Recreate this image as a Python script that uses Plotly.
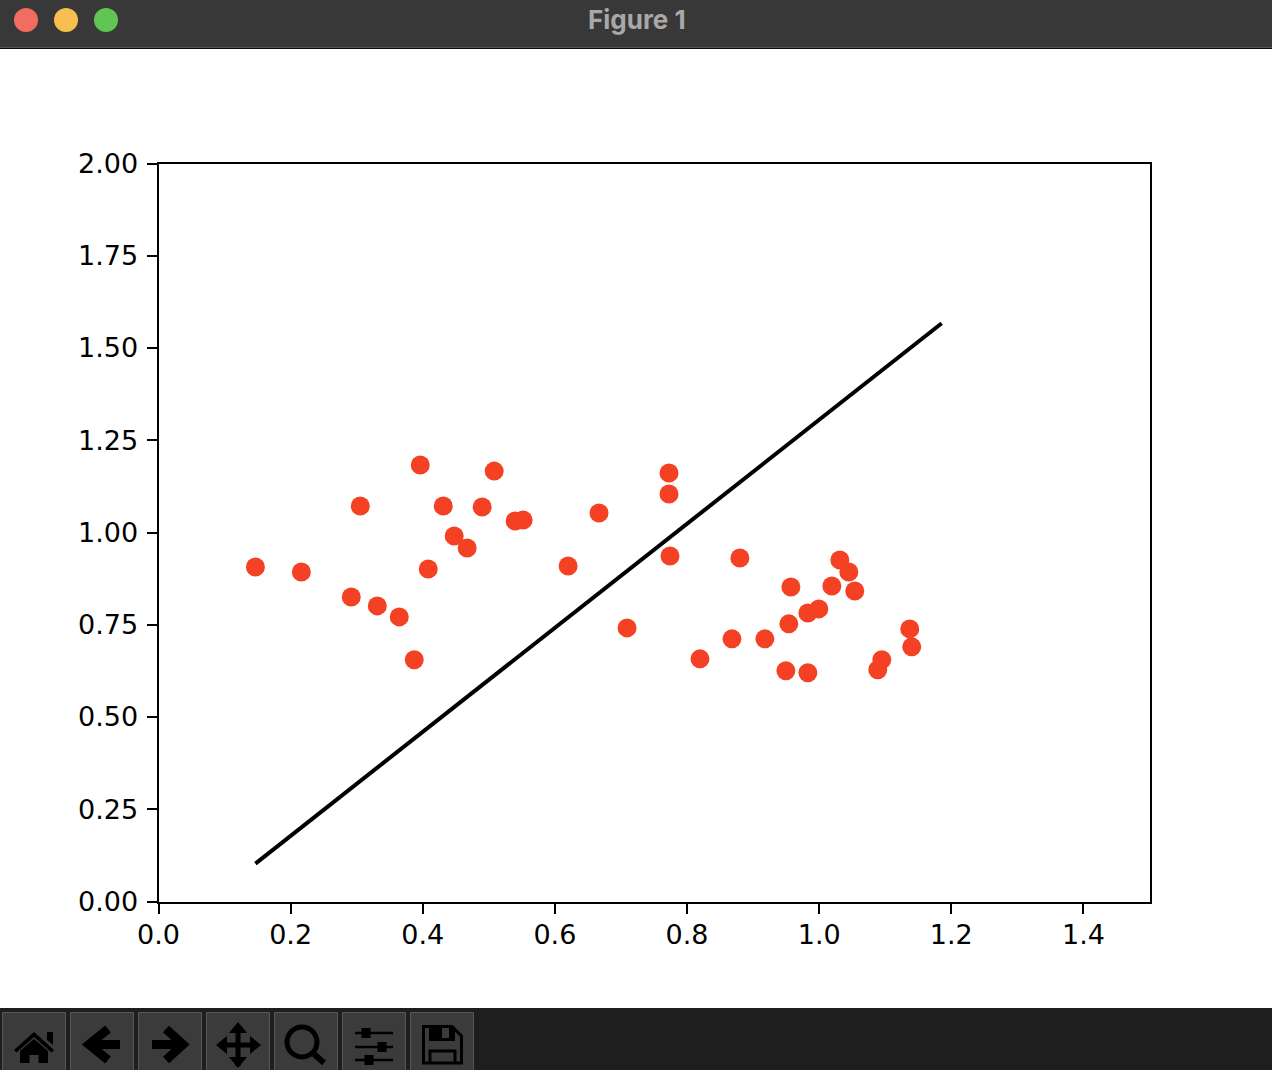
import plotly.graph_objects as go

point_x = [0.1467, 0.2162, 0.2918, 0.3312, 0.3644, 0.3871, 0.4083, 0.3962, 0.3054, 0.4310,
           0.4476, 0.4672, 0.4899, 0.5081, 0.5398, 0.5519, 0.6200, 0.6668, 0.7092, 0.7727,
           0.7727, 0.7742, 0.8196, 0.8680, 0.8800, 0.9178, 0.9496, 0.9541, 0.9572, 0.9829,
           0.9829, 0.9995, 1.0192, 1.0313, 1.0449, 1.0539, 1.0887, 1.0948, 1.1371, 1.1401]
point_y = [0.9066, 0.8931, 0.8254, 0.8011, 0.7713, 0.6549, 0.9012, 1.1827, 1.0717, 1.0717,
           0.9905, 0.9580, 1.0690, 1.1664, 1.0311, 1.0338, 0.9093, 1.0528, 0.7415, 1.1610,
           1.1042, 0.9364, 0.6576, 0.7118, 0.9310, 0.7118, 0.6252, 0.7524, 0.8525, 0.6198,
           0.7821, 0.7930, 0.8552, 0.9256, 0.8931, 0.8417, 0.6279, 0.6549, 0.7388, 0.6901]
line_x = [0.1467, 1.1855]
line_y = [0.1028, 1.5670]
x_ticks = [0.0, 0.2, 0.4, 0.6, 0.8, 1.0, 1.2, 1.4]
y_ticks = [0.0, 0.25, 0.5, 0.75, 1.0, 1.25, 1.5, 1.75, 2.0]

W, H = 1272, 1070
fig = go.Figure()
fig.add_trace(go.Scatter(x=point_x, y=point_y, mode="markers",
                         marker=dict(color="#f44123", size=19, line=dict(width=0)),
                         showlegend=False, hoverinfo="skip"))
fig.add_trace(go.Scatter(x=line_x, y=line_y, mode="lines",
                         line=dict(color="black", width=4),
                         showlegend=False, hoverinfo="skip"))

shapes = []
def S(**k):
    shapes.append(dict(xref="x2", yref="y2", layer="above", **k))
def rect(x0, y0, x1, y1, fill, lc=None, lw=0):
    S(type="rect", x0=x0, y0=y0, x1=x1, y1=y1, fillcolor=fill,
      line=dict(color=lc or fill, width=lw))
def path(d, fill=None, lc="black", lw=0):
    S(type="path", path=d, fillcolor=fill or "rgba(0,0,0,0)",
      line=dict(color=lc, width=lw))
def circle(cx, cy, r, fill, lc=None, lw=0):
    S(type="circle", x0=cx-r, y0=cy-r, x1=cx+r, y1=cy+r, fillcolor=fill,
      line=dict(color=lc or fill, width=lw))

# window title bar
rect(0, 0, W, 47.5, "#383838")
rect(0, 47.5, W, 49, "#0a0a0a")
circle(26, 20, 12, "#f26d61")
circle(66, 20, 12, "#f7bf50")
circle(106, 20, 12, "#61c554")

# toolbar
rect(0, 1008, W, H, "#1e1e1e")
for bx in [2, 70, 138, 206, 274, 342, 410]:
    rect(bx + .5, 1012.5, bx + 63.5, H + 3, "#3b3b3b", "#565656", 1)

# home
path("M14,1050 L34,1032 L54,1050 L51.5,1052.5 L34,1037 L16.5,1052.5 Z", "black")
path("M47,1032 L53,1032 L53,1045 L47,1040 Z", "black")
path("M20,1051 L34,1039 L48,1051 L48,1063 L38.5,1063 L38.5,1055 L29.5,1055 L29.5,1063 L20,1063 Z", "black")
# back
path("M120,1044.5 L90,1044.5 M108,1029 L89,1044.5 L108,1060", lw=9)
# forward
path("M152,1044.5 L182,1044.5 M166,1029 L183,1044.5 L166,1060", lw=9)
# move
path("M238,1026 L238,1066 M219,1045 L258,1045", lw=5)
path("M238,1022 L229,1033 L247,1033 Z", "black")
path("M238,1068 L229,1057 L247,1057 Z", "black")
path("M216,1045 L227,1036 L227,1054 Z", "black")
path("M261,1045 L250,1036 L250,1054 Z", "black")
# zoom
circle(302, 1042, 15, "rgba(0,0,0,0)", "black", 5)
path("M314,1054 L324,1063", lw=6)
# sliders
for y, kx in [(1033, 366), (1047, 382), (1060, 369)]:
    path(f"M355,{y} L393,{y}", lw=2.5)
    rect(kx - 4.5, y - 5, kx + 4.5, y + 5, "black")
# save
path("M423.5,1026.5 L452,1026.5 L461.5,1036 L461.5,1063 L423.5,1063 Z", lw=3)
path("M429,1026.5 L455,1026.5 L455,1041 L429,1041 Z", "black")
rect(442, 1028, 449, 1038, "#3b3b3b")
path("M430,1063 L430,1051 L455,1051 L455,1063", lw=3)

axis_common = dict(showline=True, linecolor="black", linewidth=2, mirror=True,
                   ticks="outside", ticklen=10, tickwidth=2, tickcolor="black",
                   showgrid=False, zeroline=False,
                   tickfont=dict(family="DejaVu Sans", size=27, color="black"))

fig.update_layout(
    width=W, height=H, margin=dict(l=0, r=0, t=0, b=0, pad=0, autoexpand=False), autosize=False,
    paper_bgcolor="white", plot_bgcolor="rgba(0,0,0,0)", showlegend=False,
    xaxis=dict(domain=[158.5/W, 1149.5/W], range=[0, 1.5], anchor="y", ticklabelstandoff=-2,
               tickmode="array", tickvals=x_ticks,
               ticktext=[f"{v:.1f}" for v in x_ticks], **axis_common),
    yaxis=dict(domain=[(H-901.5)/H, (H-163.5)/H], range=[0, 2], anchor="x", ticklabelstandoff=3,
               tickmode="array", tickvals=y_ticks,
               ticktext=[f"{v:.2f}" for v in y_ticks], **axis_common),
    xaxis2=dict(domain=[0, 1], range=[0, W], anchor="y2", visible=False),
    yaxis2=dict(domain=[0, 1], range=[H, 0], anchor="x2", visible=False),
    shapes=shapes,
    annotations=[dict(xref="x2", yref="y2", x=637, y=19, text="<b>Figure 1</b>", showarrow=False,
                      xanchor="center", yanchor="middle",
                      font=dict(family="Inter", size=26, color="#a8a8a8"))],
)
fig.add_trace(go.Scatter(x=[None], y=[None], xaxis="x2", yaxis="y2", showlegend=False, hoverinfo="skip"))

fig.write_html("out.html", config={"displayModeBar": False},
               post_script="document.body.style.margin='0';document.body.style.overflow='hidden';")
